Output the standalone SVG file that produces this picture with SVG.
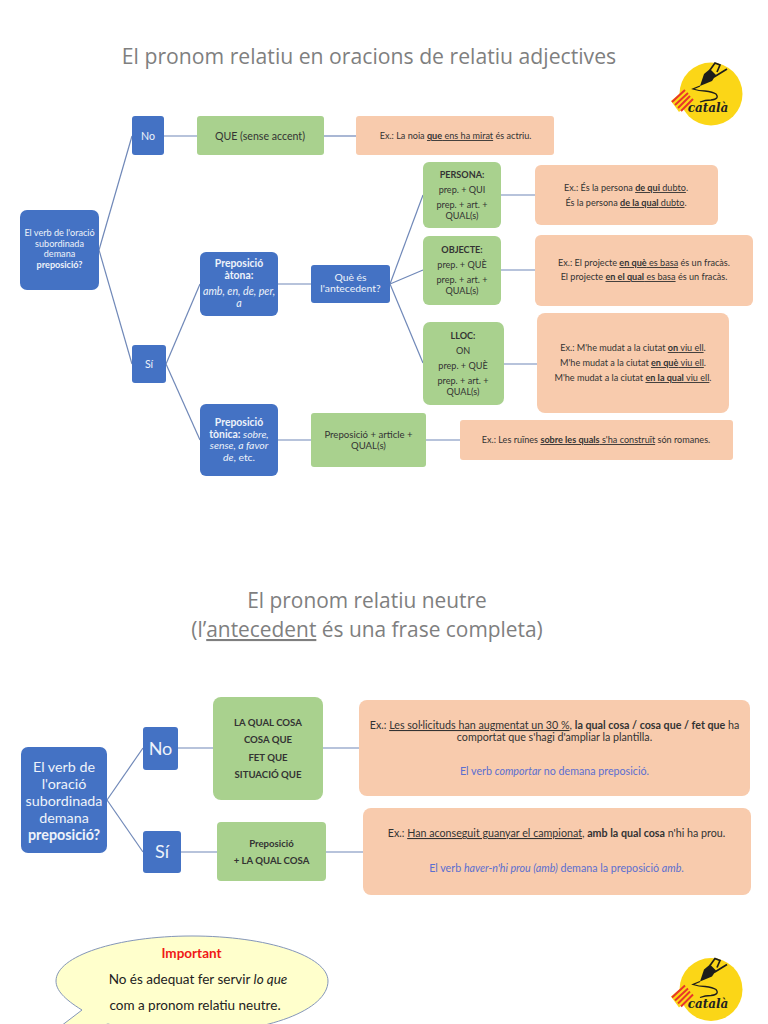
<svg xmlns="http://www.w3.org/2000/svg" width="768" height="1024" viewBox="0 0 768 1024">
<style>
text{font-family:Lato,"Open Sans","Liberation Sans",sans-serif;text-anchor:middle;fill:#333}
.title{font-family:"Open Sans","Liberation Sans",sans-serif;font-size:21.200px;fill:#7f7f7f}
.t2{font-size:20.900px}
.b{fill:#4472c4}.g{fill:#a9d18e}.p{fill:#f8cbad}
.w text{fill:#eef2fa}
.s{font-size:9.100px}.m{font-size:9.600px}.n{font-size:10.400px}.e{font-size:10.700px}.l{font-size:10.600px}
.xl{font-size:14.300px}
.big{font-size:18px}
.c{font-size:13.500px}
.bd{font-weight:700}.i{font-style:italic}.u{text-decoration:underline}
.note{fill:#5b6fd0}
.cn line{stroke:#7088b8;stroke-width:1.200}
.cat{font-family:"DejaVu Serif","Liberation Serif",serif;font-style:italic;font-weight:700;font-size:12px;fill:#222}
</style>
<defs>
<g id="logo">
<circle cx="0" cy="0" r="31.500" fill="#fbd617"/>
<path d="M-40 7L-26-5L-19 6L-32 18Z" fill="#fbd617"/>
<path d="M-39 8L-26-4M-36 11L-23-1M-33 14L-21 2M-30 17L-18 5" stroke="#e8352a" stroke-width="2" fill="none"/>
<path d="M-11-8L-7-20L-1-25L5-19L1-13Z" fill="#1d1d1b"/>
<path d="M-1-24L4-31L9-29L6-22M3-17L16-25" stroke="#1d1d1b" stroke-width="1.700" fill="none"/>
<path d="M-11-8L-18-5Q-12-3-6-3Q2-2 5 0Q9 5 0 6Q-6 6-11 8" stroke="#1d1d1b" stroke-width="1.300" fill="none"/>
</g>
</defs>

<text class="title" x="369" y="64">El pronom relatiu en oracions de relatiu adjectives</text>
<text class="title t2" x="367" y="608">El pronom relatiu neutre</text>
<text class="title t2" x="367" y="637">(l’<tspan class="u">antecedent</tspan> és una frase completa)</text>

<g id="connectors" class="cn">
<line x1="99" y1="250" x2="132" y2="136"/>
<line x1="99" y1="250" x2="132" y2="364"/>
<line x1="164" y1="136" x2="197" y2="136"/>
<line x1="324" y1="136" x2="356" y2="136"/>
<line x1="166" y1="364" x2="200" y2="284"/>
<line x1="166" y1="364" x2="200" y2="440"/>
<line x1="278" y1="284" x2="311" y2="284"/>
<line x1="278" y1="440" x2="311" y2="440"/>
<line x1="390" y1="284" x2="423" y2="195"/>
<line x1="390" y1="284" x2="423" y2="270"/>
<line x1="390" y1="284" x2="423" y2="363"/>
<line x1="501" y1="195" x2="535" y2="195"/>
<line x1="501" y1="270" x2="535" y2="270"/>
<line x1="504" y1="364" x2="537" y2="364"/>
<line x1="426" y1="440" x2="460" y2="440"/>
<line x1="107" y1="800" x2="143" y2="748"/>
<line x1="107" y1="800" x2="143" y2="852"/>
<line x1="178" y1="748" x2="213" y2="748"/>
<line x1="181" y1="852" x2="217" y2="852"/>
<line x1="323" y1="748" x2="359" y2="748"/>
<line x1="326" y1="852" x2="363" y2="852"/>
</g>

<g id="n1" class="w"><rect class="b" x="20" y="210" width="79" height="80" rx="7"/>
<text class="s" x="59.500" y="236">El verb de l'oració</text><text class="s" x="59.500" y="247">subordinada</text><text class="s" x="59.500" y="257">demana</text><text class="s bd" x="59.500" y="268">preposició?</text></g>
<g id="n2" class="w"><rect class="b" x="132" y="116" width="32" height="39" rx="3"/><text class="l" x="148" y="140">No</text></g>
<g id="n3"><rect class="g" x="197" y="116" width="127" height="39" rx="3"/><text class="l" x="260" y="140">QUE (sense accent)</text></g>
<g id="n4"><rect class="p" x="356" y="116" width="198" height="39" rx="3"/><text class="s" x="455.500" y="139">Ex.: La noia <tspan class="u"><tspan class="bd">que</tspan> ens ha mirat</tspan> és actriu.</text></g>
<g id="n5" class="w"><rect class="b" x="132" y="345" width="34" height="38" rx="3"/><text class="l" x="149" y="368">Sí</text></g>
<g id="n6" class="w"><rect class="b" x="200" y="252" width="78" height="64" rx="6"/>
<text class="n bd" x="239" y="267">Preposició</text><text class="n bd" x="239" y="279">àtona:</text><text class="e i" x="239" y="295">amb, en, de, per,</text><text class="e i" x="239" y="307">a</text></g>
<g id="n7" class="w"><rect class="b" x="311" y="265" width="79" height="38" rx="3"/><text class="n" x="350.500" y="281">Què és</text><text class="n" x="350.500" y="292">l'antecedent?</text></g>
<g id="n8" class="w"><rect class="b" x="200" y="404" width="78" height="72" rx="6"/>
<text class="n bd" x="239" y="426">Preposició</text><text class="n" x="239" y="438"><tspan class="bd">tònica:</tspan><tspan class="i"> sobre,</tspan></text><text class="n i" x="239" y="449">sense, a favor</text><text class="n" x="239" y="461"><tspan class="i">de</tspan>, etc.</text></g>
<g id="n9"><rect class="g" x="311" y="413" width="115" height="54" rx="3"/><text class="m" x="368.500" y="438">Preposició + article +</text><text class="m" x="368.500" y="449">QUAL(s)</text></g>
<g id="n10"><rect class="g" x="423" y="162" width="78" height="66" rx="6"/>
<text class="s bd" x="462" y="178">PERSONA:</text><text class="s" x="462" y="193">prep. + QUI</text><text class="s" x="462" y="208">prep. + art. +</text><text class="s" x="462" y="219">QUAL(s)</text></g>
<g id="n11"><rect class="g" x="423" y="236" width="78" height="69" rx="6"/>
<text class="s bd" x="462" y="253">OBJECTE:</text><text class="s" x="462" y="268">prep. + QUÈ</text><text class="s" x="462" y="283">prep. + art. +</text><text class="s" x="462" y="294">QUAL(s)</text></g>
<g id="n12"><rect class="g" x="423" y="322" width="81" height="83" rx="7"/>
<text class="s bd" x="463" y="339">LLOC:</text><text class="s" x="463" y="354">ON</text><text class="s" x="463" y="369">prep. + QUÈ</text><text class="s" x="463" y="384">prep. + art. +</text><text class="s" x="463" y="395">QUAL(s)</text></g>
<g id="n13"><rect class="p" x="535" y="165" width="183" height="60" rx="6"/>
<text class="s" x="626" y="191">Ex.: És la persona <tspan class="u"><tspan class="bd">de qui</tspan> dubto</tspan>.</text><text class="s" x="626" y="206">És la persona <tspan class="u"><tspan class="bd">de la qual</tspan> dubto</tspan>.</text></g>
<g id="n14"><rect class="p" x="535" y="235" width="218" height="71" rx="6"/>
<text class="s" x="644" y="266">Ex.: El projecte <tspan class="u"><tspan class="bd">en què</tspan> es basa</tspan> és un fracàs.</text><text class="s" x="644" y="280">El projecte <tspan class="u"><tspan class="bd">en el qual</tspan> es basa</tspan> és un fracàs.</text></g>
<g id="n15"><rect class="p" x="537" y="313" width="192" height="100" rx="8"/>
<text class="s" x="633" y="351">Ex.: M'he mudat a la ciutat <tspan class="u"><tspan class="bd">on</tspan> viu ell</tspan>.</text><text class="s" x="633" y="366">M'he mudat a la ciutat <tspan class="u"><tspan class="bd">en què</tspan> viu ell</tspan>.</text><text class="s" x="633" y="381">M'he mudat a la ciutat <tspan class="u"><tspan class="bd">en la qual</tspan> viu ell</tspan>.</text></g>
<g id="n16"><rect class="p" x="460" y="420" width="273" height="40" rx="3"/><text class="s" x="596" y="443">Ex.: Les ruïnes <tspan class="u"><tspan class="bd">sobre les quals</tspan> s'ha construït</tspan> són romanes.</text></g>

<g id="n17" class="w"><rect class="b" x="21" y="747" width="86" height="106" rx="7"/>
<text class="xl" x="64" y="772">El verb de</text><text class="xl" x="64" y="789">l'oració</text><text class="xl" x="64" y="806">subordinada</text><text class="xl" x="64" y="823">demana</text><text class="xl bd" x="64" y="840">preposició?</text></g>
<g id="n18" class="w"><rect class="b" x="143" y="727" width="35" height="43" rx="3"/><text class="big" x="160.500" y="755">No</text></g>
<g id="n19" class="w"><rect class="b" x="143" y="831" width="38" height="42" rx="3"/><text class="big" x="162" y="858">Sí</text></g>
<g id="n20"><rect class="g" x="213" y="697" width="110" height="103" rx="8"/>
<text class="m bd" x="268" y="726">LA QUAL COSA</text><text class="m bd" x="268" y="743">COSA QUE</text><text class="m bd" x="268" y="761">FET QUE</text><text class="m bd" x="268" y="778">SITUACIÓ QUE</text></g>
<g id="n21"><rect class="g" x="217" y="822" width="109" height="59" rx="4"/>
<text class="m bd" x="271.500" y="847">Preposició</text><text class="m bd" x="271.500" y="864">+ LA QUAL COSA</text></g>
<g id="n22"><rect class="p" x="359" y="700" width="391" height="96" rx="8"/>
<text class="e" x="554.500" y="729">Ex.: <tspan class="u">Les sol·licituds han augmentat un 30 %</tspan>, <tspan class="bd">la qual cosa / cosa que / fet que</tspan> ha</text><text class="e" x="554.500" y="741">comportat que s'hagi d'ampliar la plantilla.</text>
<text class="e note" x="554.500" y="775">El verb <tspan class="i">comportar</tspan> no demana preposició.</text></g>
<g id="n23"><rect class="p" x="363" y="808" width="388" height="87" rx="8"/>
<text class="e" x="556.500" y="837">Ex.: <tspan class="u">Han aconseguit guanyar el campionat</tspan>, <tspan class="bd">amb la qual cosa</tspan> n'hi ha prou.</text>
<text class="e note" x="556.500" y="872">El verb <tspan class="i">haver-n'hi prou (amb)</tspan> demana la preposició <tspan class="i">amb</tspan>.</text></g>

<g id="callout"><path d="M82 1010C64 999 56 990 56 981C56 956 117 936 192 936C267 936 328 956 328 981C328 1010 267 1033 192 1033C160 1033 130 1030 108 1024L40 1042Z" fill="#ffffcc" stroke="#8496b8" stroke-width="1"/>
<text x="191.500" y="958" font-size="13.500" font-weight="700" style="fill:#f01818">Important</text>
<text class="c" x="198" y="984" style="fill:#222">No és adequat fer servir <tspan class="i">lo que</tspan></text>
<text class="c" x="195" y="1010" style="fill:#222">com a pronom relatiu neutre.</text></g>

<g id="logo1"><use href="#logo" x="711" y="94"/><text class="cat" x="708" y="112">català</text></g>
<g id="logo2"><use href="#logo" x="711" y="989.500"/><text class="cat" x="708" y="1007.500">català</text></g>
</svg>
